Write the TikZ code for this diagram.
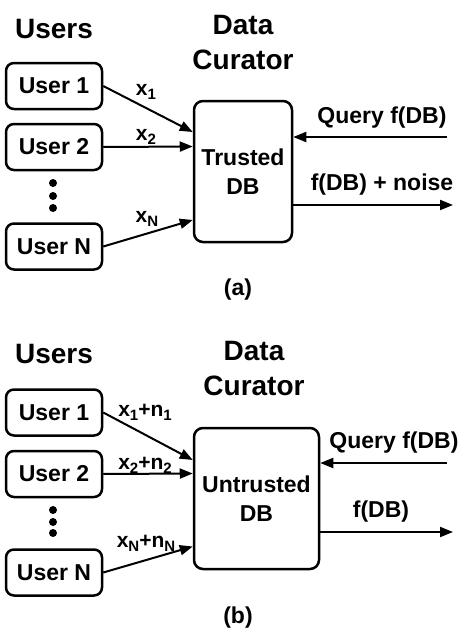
\documentclass[tikz,border=0pt]{standalone}
\usepackage{fontspec}
\setmainfont{Liberation Sans}
\usetikzlibrary{arrows.meta,calc}
\newcommand{\sbs}[1]{\raisebox{-0.35ex}{\fontsize{15}{15}\selectfont #1}}
\begin{document}
\begin{tikzpicture}[x=1pt,y=-1pt,
  every node/.style={font=\bfseries\fontsize{23}{29}\selectfont, inner sep=0pt},
  userbox/.style={draw, line width=2.5pt, rounded corners=8pt, minimum width=96pt, minimum height=46pt},
  dbbox/.style={draw, line width=2.5pt, rounded corners=9pt, align=center, minimum height=141pt},
  head/.style={font=\bfseries\fontsize{28}{35}\selectfont, align=center},
  lbl/.style={font=\bfseries\fontsize{21}{24}\selectfont},
  arr/.style={line width=2pt, -{Triangle[length=13pt,width=10pt]}},
  dot/.style={circle, fill, minimum size=8pt}]
\useasboundingbox[fill=white] (0,0) rectangle (474,643);

% ---------- (a) ----------
\node[head] (ha) at (54,29) {Users};
\node[head] (dca) at (243,43) {Data\\Curator};
\node[userbox] (ua1) at (54,86) {User 1};
\node[userbox] (ua2) at (54,147) {User 2};
\node[userbox] (uaN) at (54,246.5) {User N};
\node[dot] (da1) at (53,183) {};
\node[dot] (da2) at (53,196) {};
\node[dot] (da3) at (53,208) {};
\node[dbbox, minimum width=98pt] (dba) at (243,171.5) {Trusted\\DB};
\coordinate (qa) at (447,137);
\coordinate (oa) at (453,205);
\draw[arr] (ua1.east) -- ([yshift=39.5pt]dba.west);
\draw[arr] (ua2.east) -- ([yshift=0.5pt]ua2.east -| dba.west);
\draw[arr] (uaN.east) -- ([yshift=-48.5pt]dba.west);
\draw[arr] (qa) -- (qa -| dba.east);
\draw[arr] (oa -| dba.east) -- (oa);
\node[lbl] (la1) at (146,92) {x\sbs{1}};
\node[lbl] (la2) at (146,137) {x\sbs{2}};
\node[lbl] (laN) at (147,219) {x\sbs{N}};
\node (qla) at (382,118) {Query f(DB)};
\node (ola) at (382,185) {f(DB) + noise};
\node (capa) at (238,290) {(a)};

% ---------- (b) ----------
\node[head] (hb) at (54,354) {Users};
\node[head] (dcb) at (254,368) {Data\\Curator};
\node[userbox] (ub1) at (54,412.5) {User 1};
\node[userbox] (ub2) at (54,474) {User 2};
\node[userbox] (ubN) at (54,572.5) {User N};
\node[dot] (db1) at (53,510) {};
\node[dot] (db2) at (53,522) {};
\node[dot] (db3) at (53,533) {};
\node[dbbox, minimum width=125pt] (dbb) at (256.5,498.5) {Untrusted\\DB};
\coordinate (qb) at (447,463);
\coordinate (ob) at (453,532);
\draw[arr] (ub1.east) -- ([yshift=38.5pt]dbb.west);
\draw[arr] (ub2.east) -- ([yshift=0.5pt]ub2.east -| dbb.west);
\draw[arr] (ubN.east) -- ([yshift=-48pt]dbb.west);
\draw[arr] (qb) -- (qb -| dbb.east);
\draw[arr] (ob -| dbb.east) -- (ob);
\node[lbl] (lb1) at (145,412) {x\sbs{1}+n\sbs{1}};
\node[lbl] (lb2) at (145,465) {x\sbs{2}+n\sbs{2}};
\node[lbl] (lbN) at (146,543) {x\sbs{N}+n\sbs{N}};
\node (qlb) at (394,443) {Query f(DB)};
\node (olb) at (381,512) {f(DB)};
\node (capb) at (238,618) {(b)};
\end{tikzpicture}
\end{document}
